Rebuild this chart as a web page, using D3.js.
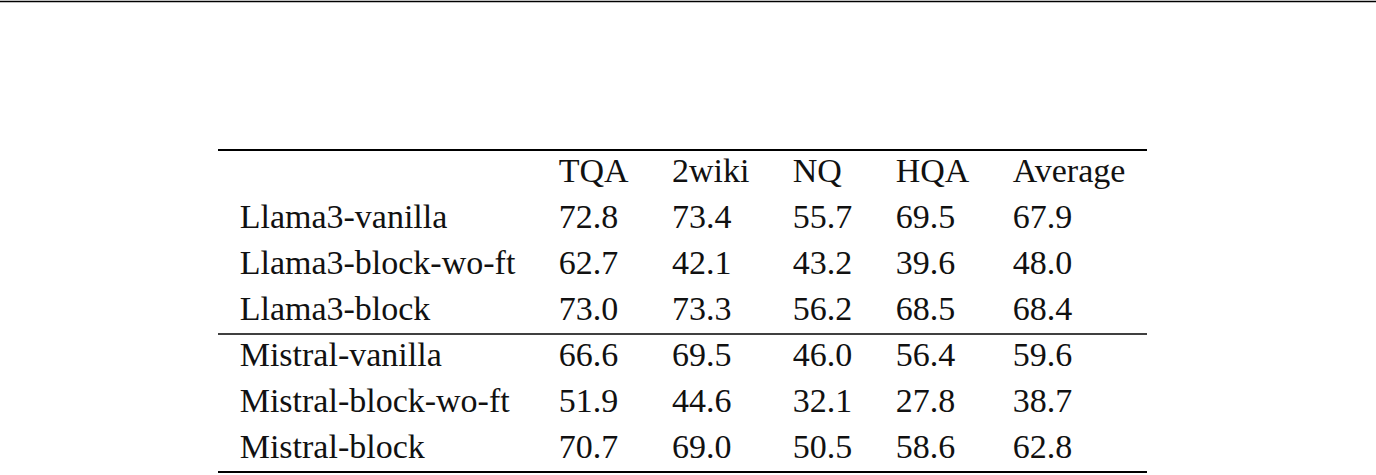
<!DOCTYPE html>
<html>
<head>
<meta charset="utf-8">
<script src="https://cdn.jsdelivr.net/npm/d3@7"></script>
<style>
  html, body { margin: 0; padding: 0; background: #fff; }
  svg { display: block; }
</style>
</head>
<body>
<div id="chart"></div>
<script>
// table contents
const columns = ['TQA', '2wiki', 'NQ', 'HQA', 'Average'];
const models = ['Llama3-vanilla', 'Llama3-block-wo-ft', 'Llama3-block',
                'Mistral-vanilla', 'Mistral-block-wo-ft', 'Mistral-block'];
const families = ['Llama3', 'Llama3', 'Llama3', 'Mistral', 'Mistral', 'Mistral'];
const tqa     = [72.8, 62.7, 73.0, 66.6, 51.9, 70.7];
const twoWiki = [73.4, 42.1, 73.3, 69.5, 44.6, 69.0];
const nq      = [55.7, 43.2, 56.2, 46.0, 32.1, 50.5];
const hqa     = [69.5, 39.6, 68.5, 56.4, 27.8, 58.6];
const average = [67.9, 48.0, 68.4, 59.6, 38.7, 62.8];

class ResultTable {
    constructor() {
        this.width = 1376;
        this.height = 475;
        this.fontSize = 34;
        this.box = { left: 218, right: 1147, top: 150, bottom: 472 };
        this.format = d3.format('.1f');
        this.draw();
    }

    // header row + one row per model
    buildRows() {
        const series = [tqa, twoWiki, nq, hqa, average];
        const rows = [[''].concat(columns)];
        models.forEach((m, i) => {
            rows.push([m].concat(series.map(s => this.format(s[i]))));
        });
        return rows;
    }

    draw() {
        const svg = d3.select('#chart')
                      .append('svg')
                      .attr('width', this.width)
                      .attr('height', this.height);

        // page rule along the top edge
        svg.append('line')
           .attr('x1', 0).attr('x2', this.width)
           .attr('y1', 1.5).attr('y2', 1.5)
           .attr('stroke', '#000')
           .attr('stroke-width', 1.6);

        const rows = this.buildRows();
        const nCols = rows[0].length;

        // measure every column like a tabular with left-aligned cells
        const probe = svg.append('text')
                         .attr('font-family', "'Liberation Serif', 'Times New Roman', serif")
                         .attr('font-size', this.fontSize)
                         .attr('visibility', 'hidden');
        const widths = d3.range(nCols).map(c =>
            d3.max(rows, r => probe.text(r[c]).node().getComputedTextLength())
        );
        probe.remove();

        const sep = (this.box.right - this.box.left - d3.sum(widths)) / (2 * nCols);
        const starts = [];
        let x = this.box.left + sep;
        widths.forEach(w => { starts.push(x); x += w + 2 * sep; });

        this.xScale = d3.scaleOrdinal()
                        .domain(d3.range(nCols))
                        .range(starts);
        this.yScale = d3.scaleBand()
                        .domain(d3.range(rows.length))
                        .range([this.box.top, this.box.bottom]);
        const baseline = 0.7 * this.yScale.bandwidth();

        // booktabs rules
        const rules = [
            { y: this.box.top, w: 1.8 },
            { y: this.box.bottom, w: 1.8 }
        ];
        families.forEach((f, i) => {
            if (i > 0 && f !== families[i - 1]) {
                rules.push({ y: this.yScale(i + 1), w: 1.4 });
            }
        });
        svg.selectAll('line.rule')
           .data(rules)
           .join('line')
           .attr('class', 'rule')
           .attr('x1', this.box.left)
           .attr('x2', this.box.right)
           .attr('y1', d => d.y)
           .attr('y2', d => d.y)
           .attr('stroke', '#000')
           .attr('stroke-width', d => d.w);

        // cells
        const rowG = svg.selectAll('g.row')
                        .data(rows)
                        .join('g')
                        .attr('class', 'row')
                        .attr('transform', (d, i) => `translate(0, ${this.yScale(i) + baseline})`);

        rowG.selectAll('text')
            .data(d => d)
            .join('text')
            .attr('x', (d, c) => this.xScale(c))
            .attr('y', 0)
            .attr('font-family', "'Liberation Serif', 'Times New Roman', serif")
            .attr('font-size', this.fontSize)
            .attr('fill', '#111')
            .text(d => d);
    }
}

new ResultTable();
</script>
</body>
</html>
